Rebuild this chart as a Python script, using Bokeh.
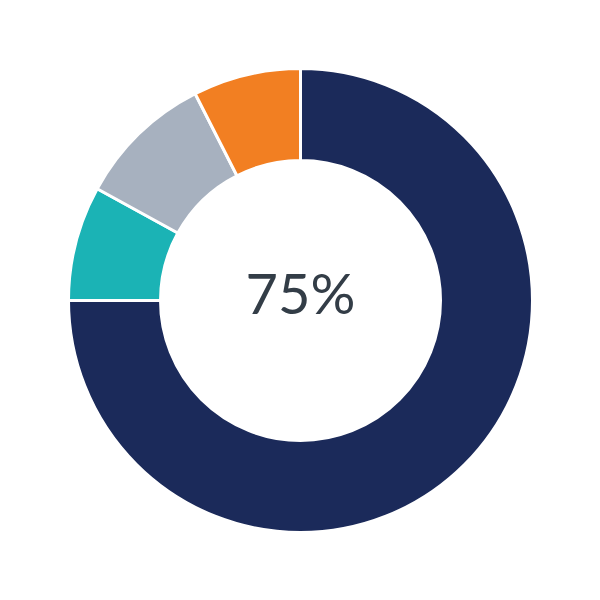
import math
from bokeh.plotting import figure
from bokeh.models import ColumnDataSource, Range1d
from bokeh.core.properties import value
from bokeh.embed import file_html
from bokeh.resources import INLINE

categories = ["A", "B", "C", "D"]
shares = [75.0, 8.0, 9.5, 7.5]
colors = ["#1b2a5a", "#1bb3b5", "#a7b1bf", "#f27f22"]
center_label = "75%"

total = sum(shares)
starts, ends = [], []
cum = 0.0
for v in shares:
    starts.append(math.pi / 2 - 2 * math.pi * cum / total)
    cum += v
    ends.append(math.pi / 2 - 2 * math.pi * cum / total)

src = ColumnDataSource(dict(cat=categories, start=starts, end=ends, color=colors))

W = 584
p = figure(width=W, height=W, output_backend="svg", toolbar_location=None,
           x_range=Range1d(-300, 284), y_range=Range1d(-284, 300),
           min_border=0)
p.axis.visible = False
p.grid.visible = False
p.outline_line_color = None
p.background_fill_color = "white"
p.border_fill_color = "white"

p.annular_wedge(x=0, y=0, inner_radius=140, outer_radius=232,
                start_angle="start", end_angle="end", direction="clock",
                fill_color="color", line_color="white", line_width=3, source=src)

p.text(x=[0], y=[8], text=[center_label], text_align="center", text_baseline="middle",
       text_font=value("Lato"), text_font_size="56px", text_color="#333d47")

open("out.html", "w").write(file_html(p, INLINE))
